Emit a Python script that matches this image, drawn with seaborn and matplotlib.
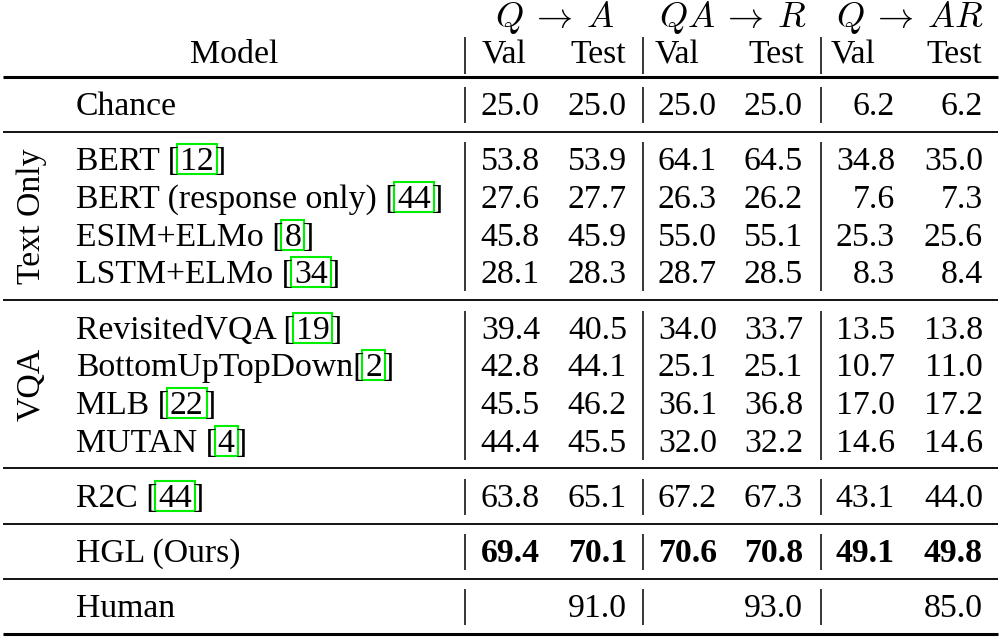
import numpy as np
import matplotlib
matplotlib.use("Agg")
import matplotlib.pyplot as plt
from matplotlib.patches import Rectangle
import seaborn as sns

# table content
models = ["Chance", "BERT ", "BERT (response only) ", "ESIM+ELMo ", "LSTM+ELMo ",
          "RevisitedVQA ", "BottomUpTopDown", "MLB ", "MUTAN ",
          "R2C ", "HGL (Ours)", "Human"]
cites = [None, "12", "44", "8", "34", "19", "2", "22", "4", "44", None, None]
group_labels = ["", "Text Only", "VQA", "", "", ""]
group_sizes = [1, 4, 4, 1, 1, 1]
best_model = "HGL (Ours)"

tasks = [r"$Q \:\rightarrow\: A$", r"$QA \:\rightarrow\: R$", r"$Q \:\rightarrow\: AR$"]
splits = ["Val", "Test"]

nan = np.nan
qa_val = [25.0, 53.8, 27.6, 45.8, 28.1, 39.4, 42.8, 45.5, 44.4, 63.8, 69.4, nan]
qa_test = [25.0, 53.9, 27.7, 45.9, 28.3, 40.5, 44.1, 46.2, 45.5, 65.1, 70.1, 91.0]
qar_val = [25.0, 64.1, 26.3, 55.0, 28.7, 34.0, 25.1, 36.1, 32.0, 67.2, 70.6, nan]
qar_test = [25.0, 64.5, 26.2, 55.1, 28.5, 33.7, 25.1, 36.8, 32.2, 67.3, 70.8, 93.0]
qtar_val = [6.2, 34.8, 7.6, 25.3, 8.3, 13.5, 10.7, 17.0, 14.6, 43.1, 49.1, nan]
qtar_test = [6.2, 35.0, 7.3, 25.6, 8.4, 13.8, 11.0, 17.2, 14.6, 44.0, 49.8, 85.0]
columns = [qa_val, qa_test, qar_val, qar_test, qtar_val, qtar_test]

# layout (pixels)
FS = 24.3
col_right = [540, 627, 717, 803, 895, 983]
sub_center = [504, 598, 677, 776, 853, 954]
task_center = [555, 733, 910]
bar_x = [465, 643, 821]
name_x = 76
pitch = 37.7
cite_color = "#00ee00"

sns.set_theme(style="white")
plt.rcParams["font.family"] = ["Liberation Serif", "DejaVu Serif"]
plt.rcParams["mathtext.fontset"] = "cm"
plt.rcParams["text.color"] = "black"

fig = plt.figure(figsize=(10.02, 6.39), dpi=100)
ax = fig.add_axes([0, 0, 1, 1])
ax.set_xlim(0, 1002)
ax.set_ylim(639, 0)
ax.axis("off")
renderer = fig.canvas.get_renderer()
inv = ax.transData.inverted()


def x_span(t):
    bb = t.get_window_extent(renderer)
    (x0, _), (x1, _) = inv.transform([[bb.x0, bb.y0], [bb.x1, bb.y1]])
    return x0, x1


# header
for lab, xc in zip(tasks, task_center):
    ax.text(xc, 27, lab, ha="center", va="baseline", fontsize=26, color="black")
ax.text(234, 63, "Model", ha="center", va="baseline", fontsize=FS, color="black")
for i, xc in enumerate(sub_center):
    ax.text(xc, 63, splits[i % 2], ha="center", va="baseline", fontsize=FS, color="black")
ax.vlines(bar_x, 37, 74, color="black", lw=1.1)

# body
y = 76.5
hlines_y = [y]
row = 0
for lab, n in zip(group_labels, group_sizes):
    h = 17.5 + pitch * n
    first = y + h / 2 - (n - 1) * pitch / 2
    centers = [first + k * pitch for k in range(n)]
    if lab:
        ax.text(40, (centers[0] + centers[-1]) / 2, lab, rotation=90,
                rotation_mode="anchor", ha="center", va="baseline",
                fontsize=FS, color="black")
    ax.vlines(bar_x, centers[0] - 17, centers[-1] + 19, color="black", lw=1.1)
    for yc in centers:
        base = yc + 11
        name = models[row]
        if cites[row]:
            t1 = ax.text(name_x, base, name + "[", ha="left", va="baseline",
                         fontsize=FS, color="black")
            x1 = x_span(t1)[1]
            t2 = ax.text(x1 + 1, base, cites[row], ha="left", va="baseline",
                         fontsize=FS, color="black")
            c0, c1 = x_span(t2)
            ax.text(c1 + 1, base, "]", ha="left", va="baseline",
                    fontsize=FS, color="black")
            ax.add_patch(Rectangle((c0 - 3, base - 26), c1 - c0 + 6, 30,
                                   fill=False, ec=cite_color, lw=1.5))
        else:
            ax.text(name_x, base, name, ha="left", va="baseline",
                    fontsize=FS, color="black")
        weight = "bold" if name == best_model else "normal"
        for vals, xr in zip(columns, col_right):
            v = vals[row]
            if not np.isnan(v):
                ax.text(xr, base, f"{v:.1f}", ha="right", va="baseline",
                        fontsize=FS, fontweight=weight, color="black")
        row += 1
    y += h
    hlines_y.append(y)

ax.hlines([hlines_y[0], hlines_y[-1]], 3, 998, color="black", lw=2.2)
ax.hlines(hlines_y[1:-1], 3, 998, color="black", lw=1.3)

fig.savefig("out.png", dpi=100)
